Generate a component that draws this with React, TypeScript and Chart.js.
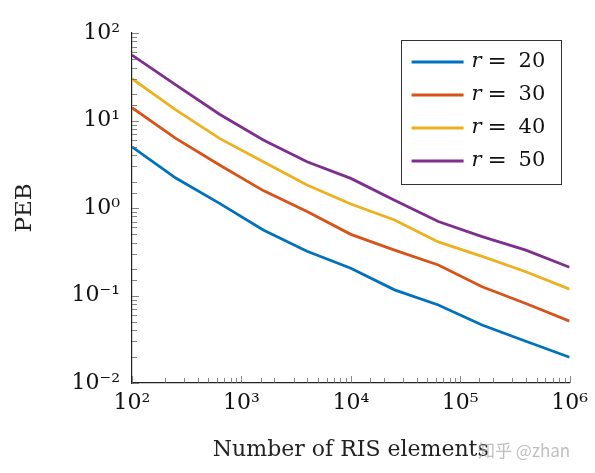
import { useEffect, useRef } from "react";
import { Chart, registerables } from "chart.js";

Chart.register(...registerables);

// Number of RIS elements (x values, log-spaced samples)
const risElements = [100, 251.2, 631, 1584.9, 3981.1, 10000, 25118.9, 63095.7, 158489.3, 398107.2, 1000000];

// PEB series
const pebR20 = [5.0, 2.2, 1.13, 0.56, 0.32, 0.205, 0.116, 0.078, 0.046, 0.030, 0.0197];
const pebR30 = [14, 6.25, 3.1, 1.58, 0.91, 0.50, 0.33, 0.223, 0.126, 0.081, 0.051];
const pebR40 = [30, 13.2, 6.25, 3.38, 1.83, 1.11, 0.73, 0.41, 0.28, 0.187, 0.118];
const pebR50 = [56, 25.5, 11.8, 6.0, 3.38, 2.18, 1.23, 0.70, 0.47, 0.33, 0.21];

const seriesLabels = ["20", "30", "40", "50"];
const seriesColors = ["#0072BD", "#D95319", "#EDB120", "#7E2F8E"];

const xTitle = "Number of RIS elements";
const yTitle = "PEB";
const watermark = "知乎 @zhan";

const SERIF = "'DejaVu Serif', 'Liberation Serif', serif";

const supMap: Record<string, string> = {
  "-": "⁻", "0": "⁰", "1": "¹", "2": "²", "3": "³", "4": "⁴",
  "5": "⁵", "6": "⁶", "7": "⁷", "8": "⁸", "9": "⁹",
};

function powLabel(v: number): string {
  const e = Math.log10(v);
  const r = Math.round(e);
  if (Math.abs(e - r) > 1e-6) return "";
  return "10" + String(r).split("").map((c) => supMap[c] || c).join("");
}

const insideTicks = {
  id: "insideTicks",
  afterDatasetsDraw(chart: any) {
    const ctx = chart.ctx;
    ctx.save();
    ctx.strokeStyle = "#666";
    ctx.lineWidth = 0.8;
    const xs = chart.scales.x;
    const ys = chart.scales.y;
    xs.ticks.forEach((t: any) => {
      const p = Math.round(xs.getPixelForValue(t.value)) + 0.5;
      const major = powLabel(t.value) !== "";
      const len = major ? 7 : 5;
      ctx.beginPath();
      ctx.moveTo(p, xs.top);
      ctx.lineTo(p, xs.top - len);
      ctx.stroke();
    });
    ys.ticks.forEach((t: any) => {
      const p = Math.round(ys.getPixelForValue(t.value)) + 0.5;
      const major = powLabel(t.value) !== "";
      const len = major ? 7 : 5;
      ctx.beginPath();
      ctx.moveTo(ys.right, p);
      ctx.lineTo(ys.right + len, p);
      ctx.stroke();
    });
    ctx.restore();
  },
};

const boxLegend = {
  id: "boxLegend",
  afterDraw(chart: any) {
    const ctx = chart.ctx;
    const area = chart.chartArea;
    const right = area.right - 9;
    const w = 160;
    const h = 144;
    const left = right - w;
    const top = area.top + 7;
    ctx.save();
    ctx.fillStyle = "#fff";
    ctx.fillRect(left, top, w, h);
    ctx.strokeStyle = "#333";
    ctx.lineWidth = 1;
    ctx.strokeRect(Math.round(left) + 0.5, Math.round(top) + 0.5, w, h);
    chart.data.datasets.forEach((ds: any, i: number) => {
      const y = top + 22 + i * 33;
      ctx.strokeStyle = ds.borderColor;
      ctx.lineWidth = 3;
      ctx.beginPath();
      ctx.moveTo(left + 11, y);
      ctx.lineTo(left + 63, y);
      ctx.stroke();
      ctx.fillStyle = "#111";
      ctx.textBaseline = "middle";
      ctx.textAlign = "left";
      ctx.font = "italic 21px " + SERIF;
      ctx.fillText("r", left + 71, y);
      ctx.font = "23px " + SERIF;
      ctx.fillText("=", left + 87, y);
      ctx.font = "21px " + SERIF;
      ctx.fillText(seriesLabels[i], left + 118, y);
    });
    // watermark
    ctx.font = "17px 'Noto Sans CJK SC', 'Noto Sans', sans-serif";
    ctx.fillStyle = "rgba(170,170,170,0.75)";
    ctx.textAlign = "left";
    ctx.textBaseline = "middle";
    ctx.fillText(watermark, 478, 451);
    ctx.restore();
  },
};

export default function App() {
  const ref = useRef<HTMLCanvasElement | null>(null);
  useEffect(() => {
    document.body.style.margin = "0";
    const canvas = ref.current;
    if (!canvas) return;
    const allSeries = [pebR20, pebR30, pebR40, pebR50];
    const chart = new Chart(canvas, {
      type: "line",
      data: {
        datasets: allSeries.map((s, i) => ({
          label: "r = " + seriesLabels[i],
          data: s.map((v, j) => ({ x: risElements[j], y: v })),
          borderColor: seriesColors[i],
          backgroundColor: seriesColors[i],
          borderWidth: 2.8,
          pointRadius: 0,
          tension: 0,
          fill: false,
        })),
      },
      options: {
        animation: false,
        responsive: false,
        devicePixelRatio: 1,
        layout: { padding: { top: 33, right: 23, left: 0, bottom: 0 } },
        plugins: { legend: { display: false }, tooltip: { enabled: false } },
        scales: {
          x: {
            type: "logarithmic",
            min: 100,
            max: 1000000,
            grid: { display: false, drawTicks: false },
            border: { display: true, color: "#222", width: 1.2 },
            ticks: {
              autoSkip: false,
              maxRotation: 0,
              padding: 7,
              color: "#111",
              font: { family: SERIF, size: 22 },
              callback: (v: any) => powLabel(Number(v)),
            },
            title: {
              display: true,
              text: xTitle,
              color: "#222",
              font: { family: SERIF, size: 22 },
              padding: { top: 0, bottom: 10 },
            },
            afterFit: (s: any) => { s.height = 90; },
          },
          y: {
            type: "logarithmic",
            min: 0.01,
            max: 100,
            grid: { display: false, drawTicks: false },
            border: { display: true, color: "#222", width: 1.2 },
            ticks: {
              autoSkip: false,
              padding: 12,
              color: "#111",
              font: { family: SERIF, size: 22 },
              callback: (v: any) => powLabel(Number(v)),
            },
            title: {
              display: true,
              text: yTitle,
              color: "#222",
              font: { family: SERIF, size: 23 },
              padding: { top: 11, bottom: 0 },
            },
            afterFit: (s: any) => { s.width = 132; },
          },
        },
      },
      plugins: [insideTicks, boxLegend],
    });
    return () => chart.destroy();
  }, []);
  return (
    <div style={{ position: "absolute", left: 0, top: 0, width: 595, height: 473, background: "#fff" }}>
      <canvas ref={ref} width={595} height={473} style={{ width: 595, height: 473, display: "block" }} />
    </div>
  );
}
